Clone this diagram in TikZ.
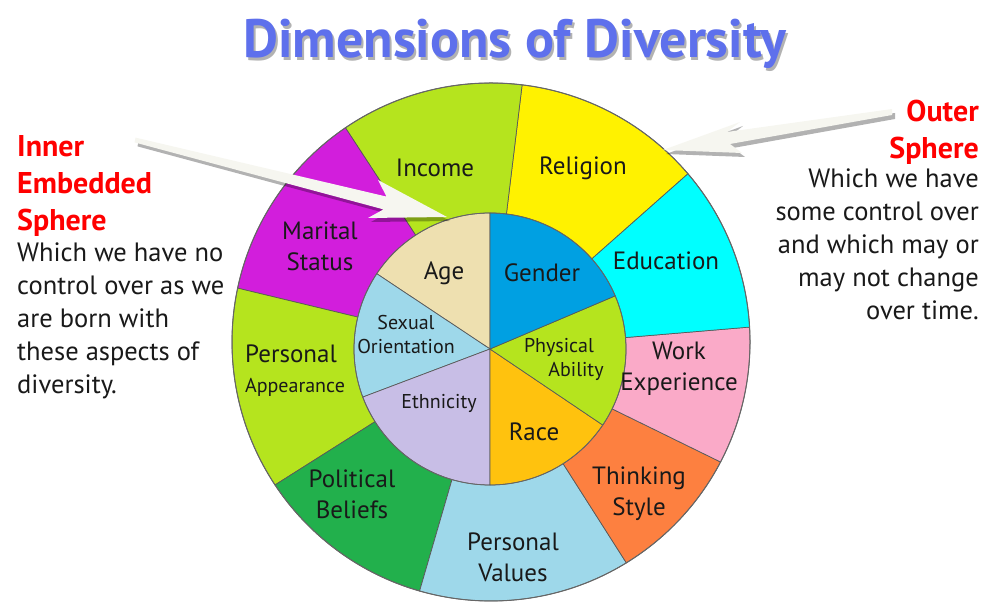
\documentclass[tikz,border=0pt]{standalone}
\usepackage{fontspec}
\setmainfont{PT Sans}
\usetikzlibrary{calc}

\definecolor{titleblue}{RGB}{94,112,236}
\definecolor{lime}{RGB}{181,228,30}
\definecolor{religion}{RGB}{255,242,0}
\definecolor{education}{RGB}{0,255,255}
\definecolor{work}{RGB}{250,170,200}
\definecolor{thinking}{RGB}{253,128,64}
\definecolor{paleblue}{RGB}{158,216,234}
\definecolor{political}{RGB}{34,176,76}
\definecolor{marital}{RGB}{210,30,220}
\definecolor{age}{RGB}{238,224,176}
\definecolor{gender}{RGB}{0,160,226}
\definecolor{ethnicity}{RGB}{200,190,230}
\definecolor{race}{RGB}{255,194,14}
\definecolor{arrowwhite}{RGB}{246,246,240}

\tikzset{
  seg/.style={draw=black!65, line width=0.7pt},
  lab/.style={font=\fontsize{25}{31}\selectfont, text=black!90, align=center, inner sep=0pt},
  smalllab/.style={lab, font=\fontsize{20}{24}\selectfont},
  head/.style={font=\bfseries\fontsize{30}{37}\selectfont, text=red, inner sep=0pt},
  body/.style={font=\fontsize{26.5}{33}\selectfont, text=black!90, inner sep=0pt},
}

\begin{document}
\begin{tikzpicture}[x=1pt, y=1pt]
    \useasboundingbox (0, 0) rectangle (1008, 609);

    % Title, its shadow set in the same box
    \node[font=\bfseries\fontsize{54}{54}\selectfont, text=titleblue, anchor=base] (title) at (515, 551)
        {\rlap{\hspace{2pt}\raisebox{-3pt}{\textcolor{black!30}{Dimensions of Diversity}}}Dimensions of Diversity};

    % Centres of the two rings
    \coordinate (oc) at (491, 267); % outer ring
    \coordinate (ic) at (490, 260); % inner ring

    % Outer sphere
    \filldraw[seg, fill=religion] (ic) -- ($(oc)+(40.5:259)$) arc[start angle=40.5, end angle=83.1, radius=259] -- cycle; % Religion
    \filldraw[seg, fill=lime] (ic) -- ($(oc)+(83.1:259)$) arc[start angle=83.1, end angle=124.2, radius=259] -- cycle; % Income
    \filldraw[seg, fill=marital] (ic) -- ($(oc)+(124.2:259)$) arc[start angle=124.2, end angle=168, radius=259] -- cycle; % Marital Status
    \filldraw[seg, fill=lime] (ic) -- ($(oc)+(168:259)$) arc[start angle=168, end angle=213.5, radius=259] -- cycle; % Personal Appearance
    \filldraw[seg, fill=political] (ic) -- ($(oc)+(213.5:259)$) arc[start angle=213.5, end angle=254, radius=259] -- cycle; % Political Beliefs
    \filldraw[seg, fill=paleblue] (ic) -- ($(oc)+(254:259)$) arc[start angle=254, end angle=301.5, radius=259] -- cycle; % Personal Values
    \filldraw[seg, fill=thinking] (ic) -- ($(oc)+(301.5:259)$) arc[start angle=301.5, end angle=332.4, radius=259] -- cycle; % Thinking Style
    \filldraw[seg, fill=work] (ic) -- ($(oc)+(332.4:259)$) arc[start angle=332.4, end angle=363.3, radius=259] -- cycle; % Work Experience
    \filldraw[seg, fill=education] (ic) -- ($(oc)+(3.3:259)$) arc[start angle=3.3, end angle=40.5, radius=259] -- cycle; % Education
    \draw[draw=black!60, line width=1pt] (oc) circle (259);

    % Inner embedded sphere
    \filldraw[seg, fill=age] (ic) -- ++(90:136) arc[start angle=90, end angle=146.4, radius=136] -- cycle; % Age
    \filldraw[seg, fill=paleblue] (ic) -- ++(146.4:136) arc[start angle=146.4, end angle=200.7, radius=136] -- cycle; % Sexual Orientation
    \filldraw[seg, fill=ethnicity] (ic) -- ++(200.7:136) arc[start angle=200.7, end angle=270, radius=136] -- cycle; % Ethnicity
    \filldraw[seg, fill=race] (ic) -- ++(270:136) arc[start angle=270, end angle=326, radius=136] -- cycle; % Race
    \filldraw[seg, fill=lime] (ic) -- ++(326:136) arc[start angle=326, end angle=383, radius=136] -- cycle; % Physical Ability
    \filldraw[seg, fill=gender] (ic) -- ++(23:136) arc[start angle=23, end angle=90, radius=136] -- cycle; % Gender
    \draw[draw=black!60, line width=0.8pt] (ic) circle (136);

    % Labels of the outer sphere
    \node[lab] (income) at (435, 441) {Income};
    \node[lab] (religion) at (583, 441) {Religion};
    \node[lab] (education) at (666, 348) {Education};
    \node[lab] (work) at (679, 240) {Work\\Experience};
    \node[lab] (marital) at (320, 363) {Marital\\Status};
    \node[lab] (personal) at (291, 255) {Personal};
    \node[smalllab] (appearance) at (295, 222) {Appearance};
    \node[lab] (political) at (352, 115) {Political\\Beliefs};
    \node[lab] (values) at (513, 52) {Personal\\Values};
    \node[lab] (thinking) at (639, 115) {Thinking\\Style};

    % Labels of the inner sphere
    \node[lab] (age) at (444, 336) {Age};
    \node[lab] (gender) at (542, 336) {Gender};
    \node[smalllab] (sexual) at (406, 274) {Sexual\\Orientation};
    \node[smalllab] (physical) at (559, 262) {Physical};
    \node[smalllab] (ability) at (576, 238) {Ability};
    \node[smalllab] (ethnicity) at (439, 206) {Ethnicity};
    \node[lab] (race) at (534, 177) {Race};

    % Side texts
    \node[head, anchor=north west, align=left] (innerhead) at (17, 474) {Inner\\Embedded\\Sphere};
    \node[body, anchor=north west, align=left] (innertext) at (17, 366) {Which we have no\\control over as we\\are born with\\these aspects of\\diversity.};
    \node[head, anchor=north east, align=right] (outerhead) at (979, 509) {Outer\\Sphere};
    \node[body, anchor=north east, align=right] (outertext) at (979, 440) {Which we have\\some control over\\and which may or\\may not change\\over time.};

    % Pointer arrows (shadow first)
    \fill[black, opacity=0.3] (137.5, 462.6) -- (386.5, 395.6) -- (371, 387) -- (450, 388) -- (381, 425) -- (389.5, 408.4) -- (138.5, 467.4) -- cycle;
    \fill[arrowwhite] (134.5, 466.6) -- (383.5, 399.6) -- (368, 391) -- (447, 392) -- (378, 429) -- (386.5, 412.4) -- (135.5, 471.4) -- cycle; % to inner sphere
    \fill[black, opacity=0.3] (895, 496) -- (730, 473) -- (743, 483) -- (666, 455) -- (745, 452) -- (733, 461) -- (895, 490) -- cycle;
    \fill[arrowwhite] (892, 500) -- (727, 477) -- (740, 487) -- (663, 459) -- (742, 456) -- (730, 465) -- (892, 494) -- cycle; % to outer sphere
\end{tikzpicture}
\end{document}
